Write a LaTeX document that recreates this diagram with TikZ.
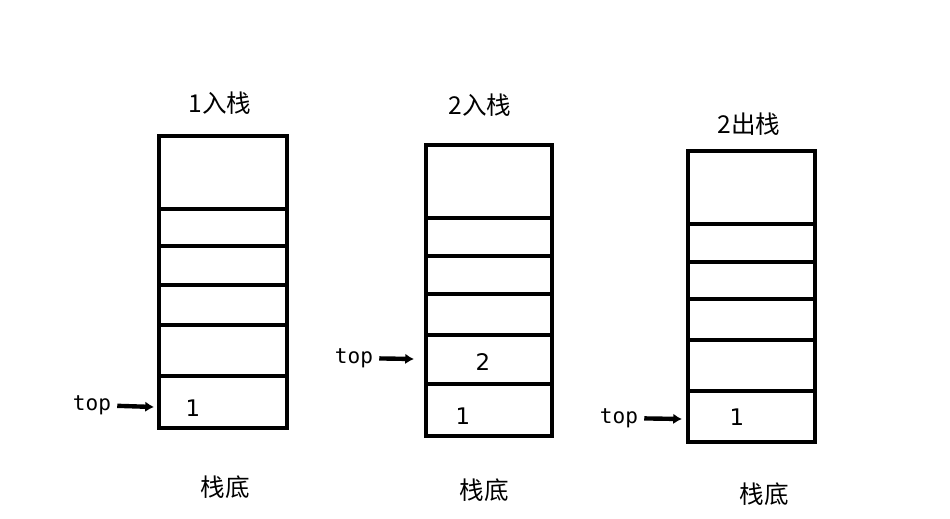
\documentclass[tikz,border=0pt]{standalone}
\usepackage{fontspec}
\setmainfont{DejaVu Sans}
\newfontfamily\cjk{Noto Sans CJK SC}
\newfontfamily\mono{DejaVu Sans Mono}
\usetikzlibrary{positioning,arrows.meta}

\begin{document}
\begin{tikzpicture}[x=0.02cm,y=-0.02cm]
                \tikzstyle{cell}=[line width=2pt, draw=black]
                \tikzstyle{title}=[font=\cjk\fontsize{14}{16}\selectfont]
                \tikzstyle{toplabel}=[font=\mono\fontsize{12}{14}\selectfont]
                \tikzstyle{num}=[font=\fontsize{13}{15}\selectfont]
                \tikzstyle{connect}=[line width=2.5pt, -{Latex[length=5pt,width=6pt]}]
                \useasboundingbox (0,0) rectangle (950,518);
                % stack 1
                \draw[cell] (159,136) rectangle (287,428);
                \foreach \y in {209,246,285,325,376} \draw[cell] (159,\y) -- (287,\y);
                \node[title] (t1) at (220,103){1入栈};
                \node[title] (b1) at (225,487){栈底};
                \node[toplabel] (top1) at (92,405){top};
                \coordinate (p1) at (154,407);
                \node[num] (v11) at (193,408){1};
                \path (top1) edge [connect] (p1);
                % stack 2
                \draw[cell] (426,145) rectangle (552,436);
                \foreach \y in {218,256,294,335,384} \draw[cell] (426,\y) -- (552,\y);
                \node[title] (t2) at (480,105){2入栈};
                \node[title] (b2) at (484,490){栈底};
                \node[toplabel] (top2) at (354,358){top};
                \coordinate (p2) at (414,359);
                \node[num] (v22) at (483,362){2};
                \node[num] (v21) at (463,416){1};
                \path (top2) edge [connect] (p2);
                % stack 3
                \draw[cell] (688,151) rectangle (815,442);
                \foreach \y in {224,262,299,340,391} \draw[cell] (688,\y) -- (815,\y);
                \node[title] (t3) at (749,124){2出栈};
                \node[title] (b3) at (764,494){栈底};
                \node[toplabel] (top3) at (619,418){top};
                \coordinate (p3) at (682,419);
                \node[num] (v31) at (737,417){1};
                \path (top3) edge [connect] (p3);
\end{tikzpicture}
\end{document}
